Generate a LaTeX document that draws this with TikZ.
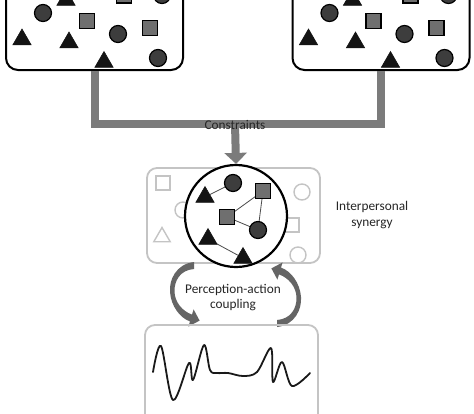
\documentclass[tikz,border=0pt]{standalone}
\usepackage{fontspec}
\setmainfont{Carlito}
\usetikzlibrary{arrows.meta,shapes.geometric,calc}
\definecolor{lgray}{HTML}{C4C4C4}
\definecolor{bgray}{HTML}{7B7B7B}
\definecolor{tfill}{HTML}{141414}
\definecolor{cfill}{HTML}{3D3D3D}
\definecolor{sfill}{HTML}{6F6F6F}
\definecolor{txt}{HTML}{262626}
\definecolor{agray}{HTML}{656565}
\tikzset{
 frame/.style={draw=black, line width=2pt, rounded corners=12pt, fill=white, inner sep=0pt},
 lframe/.style={draw=lgray, line width=1.8pt, rounded corners=10pt, inner sep=0pt},
 tri/.style={regular polygon, regular polygon sides=3, fill=tfill, draw=tfill, minimum size=21pt, inner sep=0pt, line width=0.6pt},
 circ/.style={circle, fill=cfill, draw=black, line width=1.2pt, minimum size=17pt, inner sep=0pt},
 sq/.style={rectangle, fill=sfill, draw=black, line width=1.2pt, minimum size=15pt, inner sep=0pt},
 ltri/.style={regular polygon, regular polygon sides=3, draw=lgray, line width=1.4pt, minimum size=19pt, inner sep=0pt},
 lcirc/.style={circle, draw=lgray, line width=1.4pt, minimum size=16pt, inner sep=0pt},
 lsq/.style={rectangle, draw=lgray, line width=1.4pt, minimum size=14pt, inner sep=0pt},
 bar/.style={draw=bgray, line width=8pt},
 link/.style={draw=black!70, line width=0.8pt},
 lbl/.style={font=\fontsize{13.3}{15.5}\selectfont, text=txt, align=center, inner sep=0pt},
 wave/.style={draw=black!90, line width=1.8pt, line join=round, line cap=round},
 pacarrow/.style={fill=agray, draw=none}
}
\begin{document}
\begin{tikzpicture}[x=1pt,y=-1pt]
\clip (0,0) rectangle (474,413);
\fill[white] (0,0) rectangle (474,413);

% top boxes with shapes
\foreach \p/\dx in {L/0,R/286.5}{
 \begin{scope}[xshift=\dx pt]
  \node[frame, minimum width=177pt, minimum height=120pt] (\p box) at (94.5,10) {};
  \node[tri]  (\p t0) at (66,0) {};
  \node[sq]   (\p s0) at (124,-4.5) {};
  \node[circ] (\p c0) at (162,-5) {};
  \node[circ] (\p c1) at (43,13) {};
  \node[sq]   (\p s1) at (87,21) {};
  \node[tri]  (\p t1) at (22,39.5) {};
  \node[tri]  (\p t2) at (69,42.5) {};
  \node[circ] (\p c2) at (118,34) {};
  \node[sq]   (\p s2) at (150,28) {};
  \node[tri]  (\p t3) at (104,62) {};
  \node[circ] (\p c3) at (158,58) {};
 \end{scope}
}

% middle box
\node[lframe, minimum width=173pt, minimum height=95pt] (mid) at (233.5,215.5) {};
\node[lsq]   (ls1) at (163,183) {};
\node[lcirc] (lc1) at (183,210) {};
\node[ltri]  (lt1) at (162,237) {};
\node[lcirc] (lc2) at (302,192) {};
\node[lsq]   (ls2) at (292,225) {};
\node[lcirc] (lc3) at (298,255) {};

\node[circle, draw=black, fill=white, line width=2.2pt, minimum size=102pt, inner sep=0pt] (syn) at (236,216) {};

% constraints connector
\coordinate (J) at (235,124);
\draw[bar] (Lbox.south) -- (Lbox.south |- J) -- (Rbox.south |- J) -- (Rbox.south);
\draw[bar, -{Triangle[width=22pt,length=11pt]}] (J) -- (syn.north);
\node[lbl] (constr) at (235,125) {Constraints};

% inner synergy shapes
\coordinate (ic)  at (233,183);
\coordinate (is1) at (263,191);
\coordinate (it1) at (205,197);
\coordinate (is2) at (227,217);
\coordinate (ic2) at (258,230);
\coordinate (it2) at (208,239);
\coordinate (it3) at (243,258);
\draw[link] (it1) -- (ic);
\draw[link] (is1) -- (is2);
\draw[link] (is1) -- (ic2);
\draw[link] (is2) -- (ic2);
\draw[link] (it2) -- (it3);
\node[circ] (nc)  at (ic)  {};
\node[sq]   (ns1) at (is1) {};
\node[tri]  (nt1) at (it1) {};
\node[sq]   (ns2) at (is2) {};
\node[circ] (nc2) at (ic2) {};
\node[tri]  (nt2) at (it2) {};
\node[tri]  (nt3) at (it3) {};

\node[lbl] (inter) at (372,215) {Interpersonal\\synergy};

% perception-action coupling
\node[lbl] (pac) at (233,297.5) {Perception-action\\coupling};
\foreach \ang in {0,180}{
 \fill[pacarrow, rotate around={\ang:(235.5,294.5)}]
  (194,262) .. controls (176,264) and (169,280) .. (170,292)
  .. controls (171,306) and (180,318) .. (190,321.4)
  -- (188.4,326.6) -- (199.6,320.6) -- (193.6,309.4) -- (192,314.6)
  .. controls (182,311) and (175,302) .. (174.5,292)
  .. controls (174,281) and (180,270) .. (194,269) -- cycle;
}

% bottom box with wave
\node[lframe, minimum width=173pt, minimum height=110pt] (wavebox) at (231.5,380) {};
\draw[wave] plot[smooth, tension=0.55] coordinates {
 (153,372) (161,346) (173,400) (189,363) (193,380) (204,345) (210,370)
 (217,373) (228,373) (243,376) (257,372) (271,348) (273,382) (282,362)
 (292,386) (310,373)};
\end{tikzpicture}
\end{document}
